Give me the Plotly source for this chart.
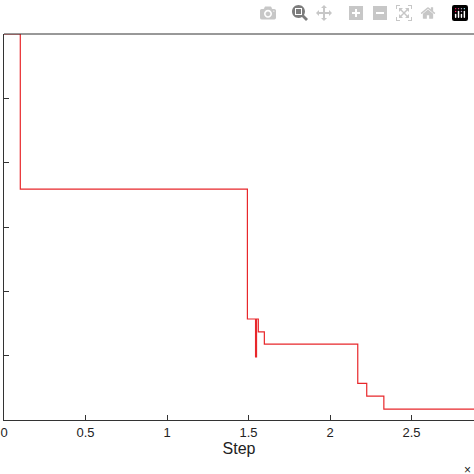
import plotly.graph_objects as go

steps = [0, 0.1, 1.493, 1.543, 1.549, 1.56, 1.597, 2.17, 2.225, 2.33, 2.9]
values = [6, 3.59, 1.57, 0.98, 1.57, 1.37, 1.18, 0.57, 0.37, 0.17, 0.17]
xticks = [0, 0.5, 1, 1.5, 2, 2.5]
xlabels = ["0", "0.5", "1", "1.5", "2", "2.5"]

fig = go.Figure(go.Scatter(x=steps, y=values, mode="lines", line_shape="hv",
                           line=dict(color="#e8272b", width=1.2)))
fig.update_layout(
    width=474, height=474, margin=dict(l=4, r=0, t=34, b=54),
    plot_bgcolor="white", paper_bgcolor="white", showlegend=False,
    font=dict(family="Liberation Sans, Arial", size=13, color="#222"),
    xaxis=dict(range=[0, 2.883], tickvals=xticks, ticktext=xlabels, ticks="inside",
               ticklen=5, tickcolor="#333", showgrid=False, showline=True, linecolor="#333",
               mirror=False, zeroline=False, title=dict(text="Step", standoff=4)),
    yaxis=dict(range=[0, 6], tickvals=[0, 1, 2, 3, 4, 5, 6], showticklabels=False,
               ticks="inside", ticklen=5, tickcolor="#333", showgrid=False, showline=True,
               linecolor="#333", zeroline=False),
    shapes=[dict(type="line", xref="paper", yref="paper", x0=0, x1=1, y0=1, y1=1,
                 line=dict(color="#333", width=1))],
    annotations=[dict(text="× 10<sup>4</sup>", xref="paper", yref="paper", x=0.975, y=-0.1,
                      xanchor="left", yanchor="top", showarrow=False, font=dict(size=12))],
)
fig.write_html("out.html", post_script="document.body.style.margin='0';")
